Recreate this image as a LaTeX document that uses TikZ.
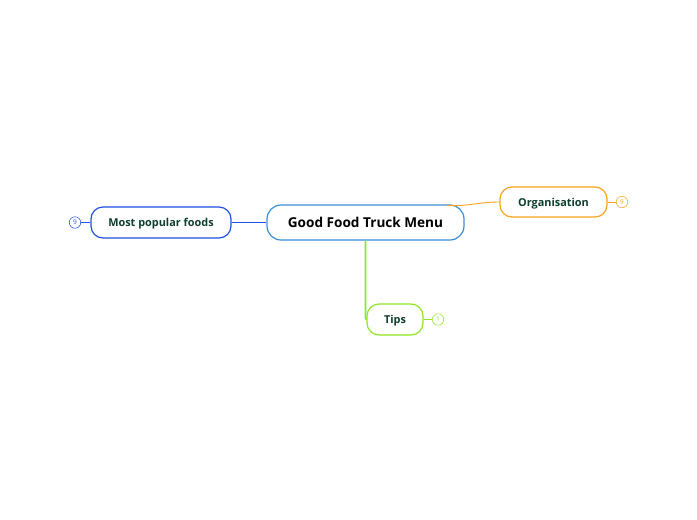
\documentclass[tikz,border=0pt]{standalone}
\usepackage{fontspec}
\setmainfont{Open Sans}
\definecolor{cblue}{HTML}{3A8ED6}
\definecolor{dblue}{HTML}{1F4FE6}
\definecolor{corange}{HTML}{F7A21B}
\definecolor{cgreen}{HTML}{8EE624}
\definecolor{tgreen}{HTML}{0E3F2C}
\begin{document}
\begin{tikzpicture}[x=1pt,y=-1pt,
  topic/.style={draw,line width=1.2pt,rounded corners=12pt,inner sep=0pt,text depth=0pt,font=\bfseries\fontsize{10.9}{12}\selectfont,text=tgreen},
  badge/.style={circle,draw,line width=0.5pt,inner sep=0pt,minimum size=11.5pt,font=\fontsize{6.5}{7}\selectfont}]
\useasboundingbox (0,0) rectangle (697,520);
\node[topic,draw=cblue,text=black,minimum width=197pt,minimum height=35pt,rounded corners=14pt,font=\bfseries\fontsize{13.6}{15}\selectfont] (c) at (365.5,222.5) {Good Food Truck Menu};
\node[topic,draw=corange,minimum width=107pt,minimum height=30pt] (o) at (553.5,202) {Organisation};
\node[topic,draw=dblue,minimum width=140pt,minimum height=31pt] (m) at (161,222.5) {Most popular foods};
\node[topic,draw=cgreen,minimum width=56pt,minimum height=31pt] (t) at (395,319.5) {Tips};
\node[badge,draw=corange,text=corange] (bo) at (622,202) {9};
\node[badge,draw=dblue,text=dblue] (bm) at (75,222.5) {9};
\node[badge,draw=cgreen,text=cgreen] (bt) at (438,319.5) {1};
\coordinate (oc) at (447,205.5);
\draw[corange,line width=0.9pt] (oc) to[out=-3,in=180] (o.west);
\draw[dblue,line width=1.3pt] (m.east) -- (c.west);
\draw[cgreen,line width=1.8pt] (c.south) -- ++(0,78) to[out=90,in=180] (t.west);
\draw[corange,line width=0.8pt] (o.east) -- (bo.west);
\draw[dblue,line width=0.8pt] (m.west) -- (bm.east);
\draw[cgreen,line width=0.8pt] (t.east) -- (bt.west);
\end{tikzpicture}
\end{document}
